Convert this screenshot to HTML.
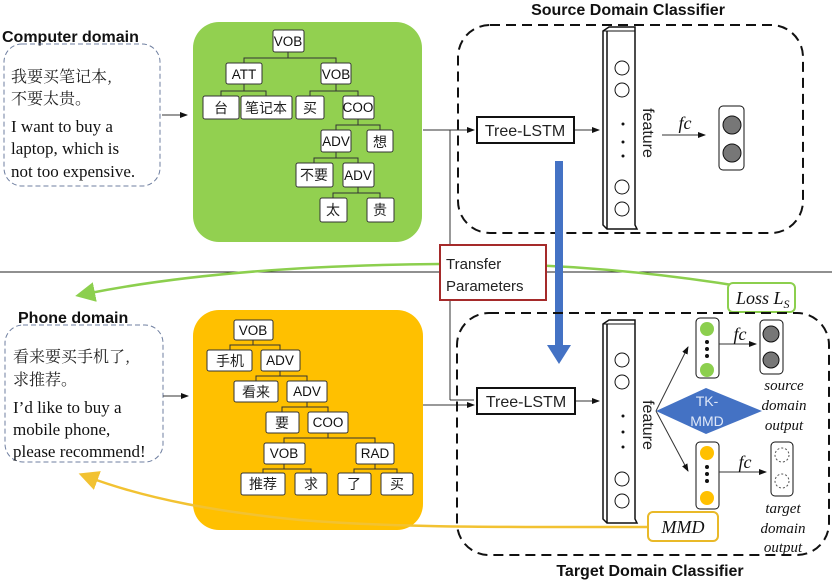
<!DOCTYPE html>
<html><head><meta charset="utf-8"><style>
body{margin:0;background:#fff}
svg{display:block}
.n{fill:#fff;stroke:#333;stroke-width:1}
.t{font-family:"Liberation Sans","Noto Sans CJK SC",sans-serif;font-size:13.5px;text-anchor:middle;fill:#111}
.c{font-family:"Liberation Sans","Noto Sans CJK SC",sans-serif;font-size:14px;text-anchor:middle;fill:#222}
.e{stroke:#333;stroke-width:1;fill:none}
.s{font-family:"Liberation Serif","Noto Serif CJK SC",serif;font-size:17px;fill:#111}
.z{font-family:"Noto Serif CJK SC","Noto Sans CJK SC",serif;font-size:16px;fill:#222}
.b{font-family:"Liberation Sans",sans-serif;font-weight:bold;font-size:16px;fill:#111}
.i{font-family:"Liberation Serif",serif;font-style:italic;fill:#111}
</style></head><body>
<svg width="832" height="580" viewBox="0 0 832 580" xmlns="http://www.w3.org/2000/svg">
<defs><marker id="a" markerWidth="8" markerHeight="6" refX="7" refY="3" orient="auto"><path d="M0,0L8,3L0,6z" fill="#111"/></marker>
<marker id="g" markerWidth="8" markerHeight="8" refX="4" refY="4" orient="auto"><path d="M0,0L8,4L0,8z" fill="#8ccf4e"/></marker>
<marker id="y" markerWidth="8" markerHeight="8" refX="4" refY="4" orient="auto"><path d="M0,0L8,4L0,8z" fill="#f2c232"/></marker></defs>

<line x1="0" y1="272" x2="832" y2="272" stroke="#222" stroke-width="1"/>

<text x="2" y="42" class="b">Computer domain</text>
<rect x="4" y="44" width="156" height="142" rx="18" fill="none" stroke="#6f7fa0" stroke-dasharray="5,3"/>
<text x="11" y="82" class="z">我要买笔记本,</text>
<text x="11" y="104" class="z">不要太贵。</text>
<text x="11" y="132" class="s">I want to buy a</text>
<text x="11" y="154" class="s">laptop, which is</text>
<text x="11" y="177" class="s">not too expensive.</text>
<line x1="162" y1="115" x2="187" y2="115" class="e" marker-end="url(#a)"/>

<text x="18" y="323" class="b">Phone domain</text>
<rect x="5" y="325" width="158" height="137" rx="18" fill="none" stroke="#6f7fa0" stroke-dasharray="5,3"/>
<text x="13" y="362" class="z">看来要买手机了,</text>
<text x="13" y="385" class="z">求推荐。</text>
<text x="13" y="413" class="s">I’d like to buy a</text>
<text x="13" y="435" class="s">mobile phone,</text>
<text x="13" y="457" class="s">please recommend!</text>
<line x1="163" y1="396" x2="188" y2="396" class="e" marker-end="url(#a)"/>

<rect x="193" y="22" width="229" height="220" rx="26" fill="#92d050"/>
<g class="e">
<path d="M288,52V58H244V63M288,58H336V63"/>
<path d="M244,84V91H221V96M244,91H266V96"/>
<path d="M336,84V91H310V96M336,91H358V96"/>
<path d="M358,119V125H336V130M358,125H380V130"/>
<path d="M336,152V158H314V163M336,158H358V163"/>
<path d="M358,187V193H333V198M358,193H380V198"/>
</g>
<g>
<rect class="n" x="273" y="30" width="31" height="22" rx="2"/><text class="t" x="288" y="46">VOB</text>
<rect class="n" x="226" y="63" width="36" height="21" rx="2"/><text class="t" x="244" y="79">ATT</text>
<rect class="n" x="321" y="63" width="30" height="21" rx="2"/><text class="t" x="336" y="79">VOB</text>
<rect class="n" x="203" y="96" width="36" height="23" rx="2"/><text class="c" x="221" y="113">台</text>
<rect class="n" x="241" y="96" width="51" height="23" rx="2"/><text class="c" x="266" y="113">笔记本</text>
<rect class="n" x="296" y="96" width="28" height="23" rx="2"/><text class="c" x="310" y="113">买</text>
<rect class="n" x="343" y="96" width="31" height="23" rx="2"/><text class="t" x="358" y="112">COO</text>
<rect class="n" x="321" y="130" width="30" height="22" rx="2"/><text class="t" x="336" y="146">ADV</text>
<rect class="n" x="367" y="130" width="26" height="22" rx="2"/><text class="c" x="380" y="147">想</text>
<rect class="n" x="296" y="163" width="37" height="24" rx="2"/><text class="c" x="314" y="180">不要</text>
<rect class="n" x="343" y="163" width="31" height="24" rx="2"/><text class="t" x="358" y="180">ADV</text>
<rect class="n" x="320" y="198" width="27" height="24" rx="2"/><text class="c" x="333" y="215">太</text>
<rect class="n" x="367" y="198" width="27" height="24" rx="2"/><text class="c" x="380" y="215">贵</text>
</g>

<rect x="193" y="310" width="230" height="220" rx="26" fill="#ffc000"/>
<g class="e">
<path d="M253,340V345H230V350M253,345H280V350"/>
<path d="M280,371V376H256V381M280,376H307V381"/>
<path d="M307,402V407H282V412M307,407H328V412"/>
<path d="M328,433V438H284V443M328,438H375V443"/>
<path d="M284,464V469H263V473M284,469H311V473"/>
<path d="M375,464V469H354V473M375,469H397V473"/>
</g>
<g>
<rect class="n" x="234" y="320" width="39" height="20" rx="2"/><text class="t" x="253" y="335">VOB</text>
<rect class="n" x="207" y="350" width="45" height="21" rx="2"/><text class="c" x="230" y="366">手机</text>
<rect class="n" x="261" y="350" width="39" height="21" rx="2"/><text class="t" x="280" y="365">ADV</text>
<rect class="n" x="234" y="381" width="44" height="21" rx="2"/><text class="c" x="256" y="397">看来</text>
<rect class="n" x="287" y="381" width="40" height="21" rx="2"/><text class="t" x="307" y="396">ADV</text>
<rect class="n" x="266" y="412" width="33" height="21" rx="2"/><text class="c" x="282" y="428">要</text>
<rect class="n" x="308" y="412" width="40" height="21" rx="2"/><text class="t" x="328" y="427">COO</text>
<rect class="n" x="264" y="443" width="41" height="21" rx="2"/><text class="t" x="284" y="458">VOB</text>
<rect class="n" x="356" y="443" width="38" height="21" rx="2"/><text class="t" x="375" y="458">RAD</text>
<rect class="n" x="241" y="473" width="44" height="22" rx="2"/><text class="c" x="263" y="489">推荐</text>
<rect class="n" x="295" y="473" width="32" height="22" rx="2"/><text class="c" x="311" y="489">求</text>
<rect class="n" x="338" y="473" width="33" height="22" rx="2"/><text class="c" x="354" y="489">了</text>
<rect class="n" x="381" y="473" width="32" height="22" rx="2"/><text class="c" x="397" y="489">买</text>
</g>

<line x1="423" y1="130" x2="474" y2="130" class="e" marker-end="url(#a)"/>
<line x1="450" y1="130" x2="450" y2="245" class="e"/>
<line x1="450" y1="300" x2="450" y2="400" class="e"/>
<line x1="423" y1="405" x2="474" y2="405" class="e" marker-end="url(#a)"/>
<line x1="450" y1="400" x2="474" y2="400" class="e"/>

<text x="628" y="15" class="b" text-anchor="middle">Source Domain Classifier</text>
<rect x="458" y="25" width="345" height="208" rx="32" fill="none" stroke="#111" stroke-width="2" stroke-dasharray="10,6"/>
<rect x="477" y="117" width="97" height="26" fill="#fff" stroke="#111" stroke-width="2"/>
<text x="525" y="136" class="c" style="font-size:16px">Tree-LSTM</text>
<line x1="575" y1="130" x2="599" y2="130" class="e" marker-end="url(#a)"/>
<path d="M603,31L609,27H635L635,225L637,229H607L603,225Z" fill="#fff" stroke="#111" stroke-width="1.5"/>
<line x1="607" y1="31" x2="607" y2="229" stroke="#111" stroke-width="1.5"/>
<line x1="603" y1="31" x2="635" y2="31" stroke="#111" stroke-width="1"/>
<g fill="#fff" stroke="#111"><circle cx="622" cy="68" r="7"/><circle cx="622" cy="90" r="7"/><circle cx="622" cy="187" r="7"/><circle cx="622" cy="209" r="7"/></g>
<g fill="#111"><circle cx="623" cy="124" r="1.5"/><circle cx="623" cy="142" r="1.5"/><circle cx="623" cy="156" r="1.5"/></g>
<text class="c" transform="translate(643,133) rotate(90)" style="font-size:16px">feature</text>
<line x1="662" y1="135" x2="705" y2="135" class="e" marker-end="url(#a)"/>
<text x="685" y="129" class="i" font-size="18" text-anchor="middle">fc</text>
<rect x="719" y="106" width="25" height="64" rx="4" fill="#fff" stroke="#111"/>
<g fill="#777" stroke="#111"><circle cx="732" cy="125" r="9"/><circle cx="732" cy="153" r="9"/></g>

<path d="M745,287C640,270 540,262 440,264C300,265 180,275 85,294" fill="none" stroke="#8ccf4e" stroke-width="2.5" marker-end="url(#g)"/>
<path d="M650,527C500,527 400,528 300,520C220,512 150,500 88,477" fill="none" stroke="#f2c232" stroke-width="2.5" marker-end="url(#y)"/>

<rect x="555" y="161" width="8" height="186" fill="#4472c4"/>
<path d="M547,345H571L559,364Z" fill="#4472c4"/>

<rect x="440" y="245" width="106" height="55" fill="#fff" stroke="#a52a2a" stroke-width="2"/>
<text x="446" y="269" class="c" style="font-size:15px;text-anchor:start">Transfer</text>
<text x="446" y="291" class="c" style="font-size:15px;text-anchor:start">Parameters</text>

<rect x="728" y="283" width="67" height="29" rx="5" fill="#fff" stroke="#8ccf4e" stroke-width="2"/>
<text x="736" y="304" class="i" font-size="18">Loss L<tspan font-size="12" dy="4">S</tspan></text>

<text x="650" y="576" class="b" text-anchor="middle">Target Domain Classifier</text>
<rect x="457" y="313" width="372" height="242" rx="32" fill="none" stroke="#111" stroke-width="2" stroke-dasharray="10,6"/>
<rect x="477" y="388" width="98" height="26" fill="#fff" stroke="#111" stroke-width="2"/>
<text x="526" y="407" class="c" style="font-size:16px">Tree-LSTM</text>
<line x1="576" y1="401" x2="599" y2="401" class="e" marker-end="url(#a)"/>
<path d="M603,324L609,320H635L635,519L637,523H607L603,519Z" fill="#fff" stroke="#111" stroke-width="1.5"/>
<line x1="607" y1="324" x2="607" y2="523" stroke="#111" stroke-width="1.5"/>
<line x1="603" y1="324" x2="635" y2="324" stroke="#111" stroke-width="1"/>
<g fill="#fff" stroke="#111"><circle cx="622" cy="360" r="7"/><circle cx="622" cy="382" r="7"/><circle cx="622" cy="479" r="7"/><circle cx="622" cy="501" r="7"/></g>
<g fill="#111"><circle cx="623" cy="416" r="1.5"/><circle cx="623" cy="432" r="1.5"/><circle cx="623" cy="447" r="1.5"/></g>
<text class="c" transform="translate(643,425) rotate(90)" style="font-size:16px">feature</text>
<line x1="656" y1="411" x2="688" y2="347" class="e" marker-end="url(#a)"/>
<line x1="656" y1="411" x2="688" y2="471" class="e" marker-end="url(#a)"/>

<rect x="696" y="318" width="23" height="60" rx="4" fill="#fff" stroke="#111"/>
<g fill="#8ccf4e"><circle cx="707" cy="329" r="7"/><circle cx="707" cy="370" r="7"/></g>
<g fill="#111"><circle cx="707" cy="342" r="2"/><circle cx="707" cy="349" r="2"/><circle cx="707" cy="356" r="2"/></g>
<rect x="696" y="442" width="23" height="67" rx="4" fill="#fff" stroke="#111"/>
<g fill="#ffc000"><circle cx="707" cy="453" r="7"/><circle cx="707" cy="498" r="7"/></g>
<g fill="#111"><circle cx="707" cy="467" r="2"/><circle cx="707" cy="474" r="2"/><circle cx="707" cy="481" r="2"/></g>

<path d="M656,411L706,388L762,411L706,434Z" fill="#4472c4"/>
<text x="707" y="406" class="c" style="fill:#dfe8f8;font-size:14px">TK-</text>
<text x="707" y="426" class="c" style="fill:#dfe8f8;font-size:14px">MMD</text>

<line x1="719" y1="344" x2="756" y2="344" class="e" marker-end="url(#a)"/>
<text x="740" y="340" class="i" font-size="18" text-anchor="middle">fc</text>
<rect x="760" y="320" width="23" height="54" rx="4" fill="#fff" stroke="#111"/>
<g fill="#777" stroke="#111"><circle cx="771" cy="334" r="8"/><circle cx="771" cy="360" r="8"/></g>
<text x="784" y="390" class="i" font-size="15" text-anchor="middle">source</text>
<text x="784" y="410" class="i" font-size="15" text-anchor="middle">domain</text>
<text x="784" y="430" class="i" font-size="15" text-anchor="middle">output</text>

<line x1="719" y1="472" x2="766" y2="472" class="e" marker-end="url(#a)"/>
<text x="745" y="468" class="i" font-size="18" text-anchor="middle">fc</text>
<rect x="771" y="442" width="22" height="54" rx="4" fill="#fff" stroke="#111"/>
<g fill="none" stroke="#555" stroke-dasharray="2,2"><circle cx="782" cy="455" r="7"/><circle cx="782" cy="481" r="7"/></g>
<text x="783" y="513" class="i" font-size="15" text-anchor="middle">target</text>
<text x="783" y="533" class="i" font-size="15" text-anchor="middle">domain</text>
<text x="783" y="552" class="i" font-size="15" text-anchor="middle">output</text>

<rect x="648" y="512" width="70" height="29" rx="5" fill="#fff" stroke="#e9b928" stroke-width="2"/>
<text x="683" y="533" class="i" font-size="18" text-anchor="middle">MMD</text>
</svg>
</body></html>
